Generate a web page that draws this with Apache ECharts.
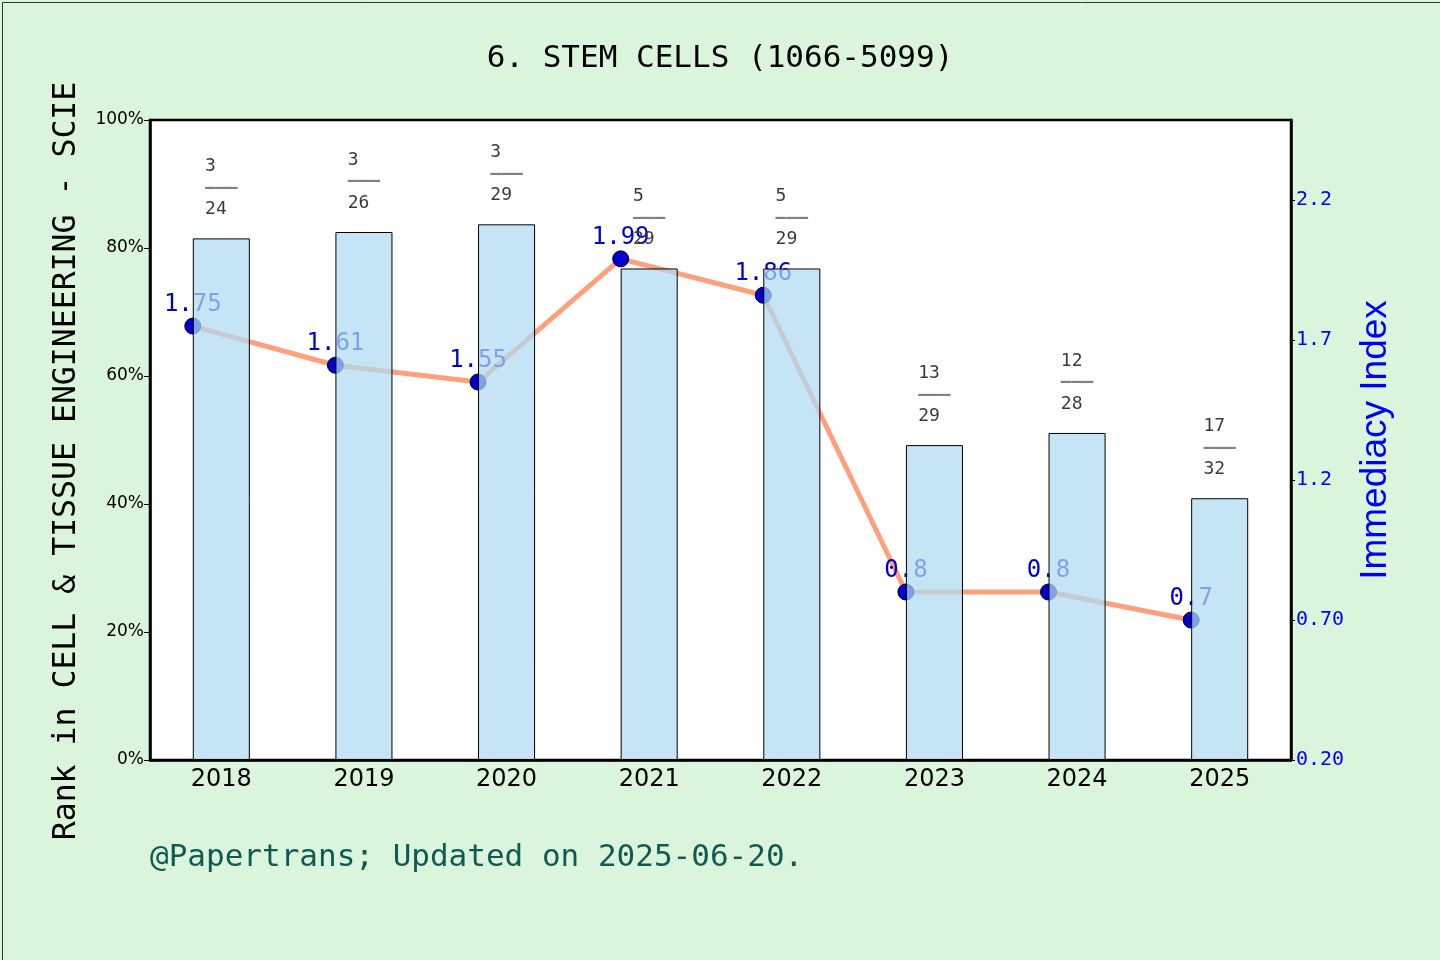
<!DOCTYPE html>
<html>
<head>
<meta charset="utf-8">
<script src="https://cdn.jsdelivr.net/npm/echarts@6/dist/echarts.min.js"></script>
<style>
  html, body { margin: 0; padding: 0; background: #dbf5dd; }
  #chart { width: 1440px; height: 960px; }
</style>
</head>
<body>
<div id="chart"></div>
<script>
// data
var years = ["2018", "2019", "2020", "2021", "2022", "2023", "2024", "2025"];
var rankPct = [81.5, 82.5, 83.7, 76.8, 76.8, 49.2, 51.1, 40.9];
var ranks = [3, 3, 3, 5, 5, 13, 12, 17];
var totals = [24, 26, 29, 29, 29, 29, 28, 32];
var immediacy = [1.75, 1.61, 1.55, 1.99, 1.86, 0.8, 0.8, 0.7];
var rightTickValues = [0.2, 0.7, 1.2, 1.7, 2.2];
var rightTicks = ["0.20", "0.70", "1.2", "1.7", "2.2"];

var mono = "DejaVu Sans Mono";

function pad3(s) {
  s = String(s);
  while (s.length < 3) s += " ";
  return s;
}

var barData = rankPct.map(function (v, i) {
  return {
    value: v,
    label: {
      formatter: "{n|" + pad3(ranks[i]) + "}\n{d|–––}\n{n|" + pad3(totals[i]) + "}"
    }
  };
});

// line sits on the left edge of each bar
var lineData = immediacy.map(function (v, i) {
  return [i - 0.2, v];
});

var myChart = echarts.init(document.getElementById("chart"));
myChart.setOption({
  backgroundColor: "#dbf5dd",
  animation: false,
  title: {
    text: "6. STEM CELLS (1066-5099)",
    left: "center",
    top: 38,
    textStyle: { fontFamily: mono, fontSize: 31, fontWeight: "normal", color: "#000" }
  },
  grid: {
    left: 150,
    right: 149,
    top: 120,
    bottom: 200,
    show: true,
    backgroundColor: "#fff",
    borderColor: "#000",
    borderWidth: 2.5
  },
  xAxis: [
    {
      type: "category",
      data: years,
      boundaryGap: true,
      axisLine: { onZero: false, lineStyle: { color: "#000", width: 2.5 } },
      axisTick: { inside: true, length: 5, lineStyle: { color: "#000" } },
      axisLabel: { fontFamily: "DejaVu Sans", fontSize: 24, color: "#000", margin: 8 }
    },
    {
      type: "value",
      min: -0.5,
      max: 7.5,
      show: false
    }
  ],
  yAxis: [
    {
      type: "value",
      min: 0,
      max: 100,
      interval: 20,
      axisLine: { show: true, onZero: false, lineStyle: { color: "#000", width: 2.5 } },
      axisTick: { show: true, length: 6, lineStyle: { color: "#000" } },
      axisLabel: { formatter: "{value}%", fontFamily: "DejaVu Sans", fontSize: 17, color: "#000", margin: 6 },
      splitLine: { show: false }
    },
    {
      type: "value",
      min: 0.2,
      max: 2.486,
      interval: 0.5,
      position: "right",
      name: "Immediacy Index",
      nameLocation: "middle",
      nameGap: 66,
      nameRotate: 90,
      nameTextStyle: { fontFamily: "Liberation Sans", fontSize: 37, color: "#0000ff" },
      axisLine: { show: true, onZero: false, lineStyle: { color: "#000", width: 2.5 } },
      axisTick: { show: true, length: 4, customValues: rightTickValues, lineStyle: { color: "#000" } },
      axisLabel: {
        fontFamily: mono,
        fontSize: 20,
        color: "#0000ff",
        margin: 5,
        customValues: rightTickValues,
        formatter: function (v) {
          var idx = rightTickValues.indexOf(Math.round(v * 10) / 10);
          return idx >= 0 ? rightTicks[idx] : "";
        }
      },
      splitLine: { show: false }
    }
  ],
  series: [
    {
      name: "Immediacy Index",
      type: "line",
      xAxisIndex: 1,
      yAxisIndex: 1,
      data: lineData,
      z: 2,
      symbol: "circle",
      symbolSize: 16,
      lineStyle: { color: "#ffa07a", width: 5 },
      itemStyle: { color: "#0000cd", borderColor: "#000", borderWidth: 1 },
      label: {
        show: true,
        position: "top",
        distance: 1,
        fontFamily: mono,
        fontSize: 24,
        color: "#0000cd",
        formatter: function (p) { return String(p.value[1]); }
      }
    },
    {
      name: "Rank",
      type: "bar",
      xAxisIndex: 0,
      yAxisIndex: 0,
      data: barData,
      z: 3,
      barWidth: "40%",
      itemStyle: { color: "rgba(175,219,244,0.73)", borderColor: "#000", borderWidth: 1 },
      label: {
        show: true,
        position: "top",
        distance: 18,
        lineHeight: 21.5,
        rich: {
          n: { fontFamily: mono, fontSize: 18, color: "#3a3a3a", lineHeight: 21.5 },
          d: { fontFamily: mono, fontSize: 18, fontWeight: "bold", color: "#808080", lineHeight: 21.5 }
        }
      }
    }
  ],
  graphic: [
    {
      type: "text",
      x: 67,
      y: 461,
      rotation: Math.PI / 2,
      style: {
        text: "Rank in CELL & TISSUE ENGINEERING - SCIE",
        font: "31.5px " + mono,
        fill: "#000",
        textAlign: "center",
        textVerticalAlign: "middle"
      }
    },
    {
      type: "text",
      left: 150,
      top: 842,
      style: {
        text: "@Papertrans; Updated on 2025-06-20.",
        font: "31px " + mono,
        fill: "#115a52"
      }
    },
    {
      type: "rect",
      left: 0,
      top: 0,
      shape: { width: 1439, height: 959 },
      style: { fill: null, stroke: "#333", lineWidth: 1 },
      silent: true
    }
  ]
});
</script>
</body>
</html>
